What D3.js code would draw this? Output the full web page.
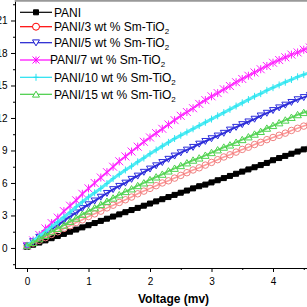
<!DOCTYPE html>
<html><head><meta charset="utf-8">
<script src="https://cdn.jsdelivr.net/npm/d3@7"></script>
<style>
html,body{margin:0;padding:0;background:#fff;}
svg{display:block;font-family:"Liberation Sans",Arial,sans-serif;}
</style></head>
<body><svg id="c" width="307" height="307"></svg>
<script>
const voltage = [0,0.1,0.2,0.3,0.4,0.5,0.6,0.7,0.8,0.9,1.0,1.1,1.2,1.3,1.4,1.5,1.6,1.7,1.8,1.9,2.0,2.1,2.2,2.3,2.4,2.5,2.6,2.7,2.8,2.9,3.0,3.1,3.2,3.3,3.4,3.5,3.6,3.7,3.8,3.9,4.0,4.1,4.2,4.3,4.4,4.5,4.6];
const pani   = [0.1,0.3,0.5,0.7,0.9,1.1,1.3,1.5,1.7,1.9,2.1,2.3,2.5,2.7,2.9,3.1,3.3,3.5,3.7,3.9,4.1,4.3,4.5,4.7,4.9,5.1,5.3,5.5,5.7,5.85,6.05,6.25,6.45,6.65,6.85,7.05,7.25,7.45,7.65,7.85,8.1,8.3,8.5,8.7,8.9,9.1,9.3];
const sm3    = [0.2,0.45,0.7,0.95,1.25,1.5,1.8,2.05,2.35,2.6,2.9,3.15,3.4,3.7,3.95,4.2,4.45,4.7,5.0,5.25,5.5,5.75,6.0,6.2,6.45,6.7,6.95,7.2,7.4,7.65,7.9,8.15,8.4,8.6,8.85,9.1,9.3,9.55,9.75,10.0,10.2,10.4,10.6,10.85,11.05,11.25,11.45];
const sm5    = [0.2,0.6,1.0,1.35,1.75,2.1,2.5,2.9,3.25,3.65,4.0,4.35,4.7,5.05,5.4,5.7,6.0,6.35,6.65,7.0,7.3,7.6,7.9,8.2,8.5,8.8,9.05,9.3,9.6,9.85,10.1,10.35,10.6,10.9,11.15,11.4,11.65,11.9,12.2,12.45,12.7,12.95,13.2,13.45,13.7,13.9,14.1];
const sm7    = [0.2,0.7,1.2,1.8,2.3,2.8,3.4,3.9,4.4,5.0,5.5,6.0,6.5,7.0,7.5,8.0,8.45,8.9,9.35,9.8,10.2,10.6,11.0,11.4,11.8,12.2,12.55,12.9,13.3,13.65,14.0,14.3,14.65,14.95,15.3,15.6,15.9,16.2,16.5,16.8,17.1,17.35,17.6,17.85,18.05,18.3,18.5];
const sm10   = [0.2,0.65,1.1,1.5,1.95,2.4,2.85,3.3,3.8,4.25,4.7,5.1,5.5,5.95,6.4,6.8,7.2,7.55,7.95,8.3,8.7,9.05,9.4,9.75,10.1,10.4,10.7,11.0,11.3,11.6,11.9,12.2,12.5,12.8,13.1,13.4,13.7,14.0,14.25,14.55,14.8,15.05,15.3,15.55,15.8,16.0,16.2];
const sm15   = [0.2,0.5,0.85,1.15,1.5,1.8,2.1,2.45,2.75,3.1,3.4,3.7,4.0,4.3,4.6,4.9,5.2,5.45,5.75,6.0,6.3,6.55,6.8,7.1,7.35,7.6,7.85,8.1,8.3,8.55,8.8,9.05,9.3,9.5,9.75,10.0,10.25,10.5,10.75,11.05,11.3,11.55,11.8,12.05,12.3,12.5,12.7];
const seriesNames = ["PANI","PANI/3 wt % Sm-TiO","PANI/5 wt % Sm-TiO","PANI/7 wt % Sm-TiO","PANI/10 wt % Sm-TiO","PANI/15 wt % Sm-TiO"];
const seriesValues = [pani, sm3, sm5, sm7, sm10, sm15];
const xTicks = [0,1,2,3,4];
const xMinor = [0.5,1.5,2.5,3.5,4.5];
const yTicks = [0,3,6,9,12,15,18,21];
const yMinor = [-1.5,1.5,4.5,7.5,10.5,13.5,16.5,19.5,22.5];

const colors = ["#000000","#ff0000","#1f1fd0","#ff00ff","#22e0f0","#44cc44"];
const plotLine = ["#000000","#ff9a9a","#3030d8","#ff40ff","#50ecf4","#66d866"];
const markColors = ["#000000","#f08080","#2b2bdc","#ff22ff","#30e4f0","#4ed24e"];
const shapes = ["square","circle","tdown","star","plus","tup"];

const svg = d3.select("#c");
svg.append("rect").attr("width",307).attr("height",307).attr("fill","#fff");
const x = d3.scaleLinear().domain([-0.2,5]).range([14.7,14.7+5.2*61.5]);
const y = d3.scaleLinear().domain([-1.85,22.8]).range([268,1]);

function markerPath(shape, s){
  const h = s/2;
  switch(shape){
    case "square": return `M${-h},${-h}h${s}v${s}h${-s}z`;
    case "circle": return `M${h},0A${h},${h} 0 1,1 ${-h},0A${h},${h} 0 1,1 ${h},0z`;
    case "tdown": return `M${-h},${-h*0.8}L${h},${-h*0.8}L0,${h*0.9}z`;
    case "tup": return `M${-h},${h*0.8}L${h},${h*0.8}L0,${-h*0.9}z`;
    case "star": return `M${-h},${-h}L${h},${h}M${-h},${h}L${h},${-h}M0,${-h}V${h}`;
    case "plus": return `M0,${-h}V${h}M${-h*0.7},0H${h*0.7}`;
  }
}

const plot = svg.append("g");
const line = d3.line().x((d,i)=>x(voltage[i])).y(d=>y(d));
const lineW = [4,1.6,2,2,3,2];
const markS = [5,6.5,7,8,7,7.5];
seriesValues.forEach((vals,k)=>{
  const g = plot.append("g");
  g.append("path").attr("d",line(vals)).attr("fill","none")
    .attr("stroke",plotLine[k]).attr("stroke-width",lineW[k]);
  g.selectAll("path.m").data(vals).enter().append("path").attr("class","m")
    .attr("transform",(d,i)=>`translate(${x(voltage[i])},${y(d)})`)
    .attr("d",markerPath(shapes[k], markS[k]))
    .attr("fill",k===0?"#000":"none")
    .attr("stroke",markColors[k]).attr("stroke-width",1);
});

// axes
svg.append("g").attr("transform","translate(0,268)")
  .call(d3.axisBottom(x).tickValues(xTicks).tickFormat(d3.format("d")).tickSize(4).tickSizeOuter(0).tickPadding(6));
svg.append("g").attr("transform","translate(0,268)")
  .call(d3.axisBottom(x).tickValues(xMinor).tickFormat("").tickSize(2).tickSizeOuter(0));
svg.append("g").attr("transform","translate(15,0)")
  .call(d3.axisLeft(y).tickValues(yTicks).tickFormat(d3.format("d")).tickSize(4).tickSizeOuter(0).tickPadding(3.5));
svg.append("g").attr("transform","translate(15,0)")
  .call(d3.axisLeft(y).tickValues(yMinor).tickFormat("").tickSize(2).tickSizeOuter(0));
svg.selectAll(".domain").attr("stroke","#000").attr("stroke-width",1);
svg.selectAll(".tick line").attr("stroke","#000");
svg.selectAll(".tick text").attr("font-size",10).attr("fill","#000").attr("font-family","Liberation Sans, Arial, sans-serif");
// top frame line
svg.append("line").attr("x1",x.range()[0]).attr("x2",x.range()[1]).attr("y1",0.8).attr("y2",0.8)
  .attr("stroke","#999").attr("stroke-width",2);

svg.append("text").attr("x",173.5).attr("y",303).attr("text-anchor","middle")
  .attr("font-size",12).attr("font-weight","bold").text("Voltage (mv)");

// legend
const legY = [12.3,26.7,42.7,60,77.3,94.3];
seriesNames.forEach((name,k)=>{
  const g = svg.append("g").attr("transform",`translate(0,${legY[k]})`);
  g.append("line").attr("x1",20).attr("x2",52).attr("stroke",colors[k]).attr("stroke-width",1.2);
  g.append("path").attr("transform","translate(36,0)").attr("d",markerPath(shapes[k],k===0?5:7))
    .attr("fill",k===0?"#000":"#fff").attr("stroke",colors[k]).attr("stroke-width",1);
  const t = g.append("text").attr("x",k===3?50:54).attr("y",4.3).attr("font-size",12).attr("fill","#000").text(name);
  if(k>0) t.append("tspan").attr("font-size",8).attr("dy",3).text("2");
});
</script></body></html>
